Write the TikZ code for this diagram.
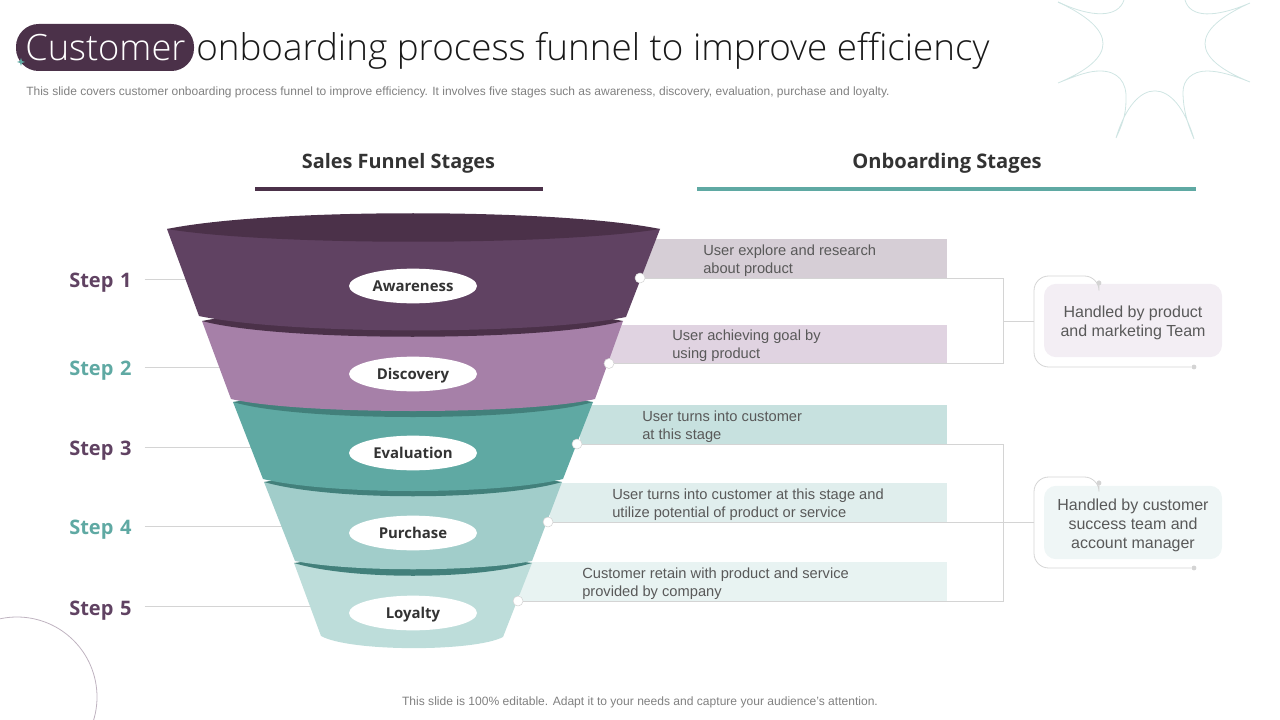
\documentclass[tikz,border=0pt]{standalone}
\usepackage{fontspec}
\usetikzlibrary{shapes.geometric}
\setmainfont{Liberation Sans}
\newfontfamily\headfont{Open Sans}
\newfontfamily\titlefont{Open Sans Light}
\definecolor{plumdark}{HTML}{4B3149}
\definecolor{plum}{HTML}{604262}
\definecolor{mauve}{HTML}{A680A8}
\definecolor{tealdark}{HTML}{42807B}
\definecolor{teal}{HTML}{5FA9A3}
\definecolor{tealmid}{HTML}{A1CDCA}
\definecolor{teallight}{HTML}{BDDDDA}
\definecolor{inkgray}{HTML}{595959}
\definecolor{wiregray}{HTML}{D4D4D4}
\definecolor{boxplum}{HTML}{F3EEF4}
\definecolor{boxteal}{HTML}{EFF6F6}
\begin{document}
\begin{tikzpicture}[x=0.75pt,y=-0.75pt,
    wire/.style ={draw=wiregray, line width=0.6pt},
    stepname/.style ={anchor=west, inner sep=0pt, text width=56.25pt, font=\headfont\bfseries\fontsize{15}{18}\selectfont},
    stagename/.style ={ellipse, fill=white, minimum width=96pt, minimum height=26pt, inner sep=0pt, text height=10.7pt, text depth=2pt, align=center, text=black!80, font=\headfont\bfseries\fontsize{11.2}{13}\selectfont},
    dotmark/.style ={circle, draw=wiregray, fill=white, minimum size=7.5pt, inner sep=0pt},
    smalldot/.style ={circle, fill=wiregray, minimum size=3.6pt, inner sep=0pt},
    blurb/.style ={anchor=west, align=left, inner sep=0pt, text=inkgray, font=\fontsize{11}{13.5}\selectfont},
    handled/.style ={rounded corners=9pt, minimum width=133.5pt, minimum height=55pt, inner sep=0pt, align=center, text=inkgray, font=\fontsize{12}{14.2}\selectfont}]
   \clip (0,0) rectangle (1280,720);

   % decoration
   \draw[draw=teal!30, line width=0.6pt] (1058,2) .. controls (1118,30) and (1118,58) .. (1058,83)
      .. controls (1080,74) and (1090,71) .. (1100,71)
      .. controls (1118,71) and (1127,82) .. (1126,100)
      .. controls (1126,115) and (1122,125) .. (1116,138)
      .. controls (1135,75) and (1175,75) .. (1194,139)
      .. controls (1188,125) and (1183,110) .. (1183,92)
      .. controls (1183,80) and (1192,71) .. (1207,71)
      .. controls (1220,71) and (1235,76) .. (1250,82)
      .. controls (1190,58) and (1190,30) .. (1250,3)
      .. controls (1215,18) and (1190,18) .. (1185,0);
   \draw[draw=teal!30, line width=0.6pt] (1058,2) .. controls (1092,18) and (1118,18) .. (1124,0);
   \draw[draw=plum!40, line width=0.6pt] (17,697) circle (80);

   % title
   \node[draw=none, fill=plumdark, rounded corners=17pt, minimum width=133.5pt, minimum height=35.25pt] (pill) at (105,47.5) {};
   \node[anchor=base west, inner sep=0pt, text=white, font=\titlefont\fontsize{27.2}{30}\selectfont] (titleA) at (25,60.5) {Customer};
   \node[anchor=base west, inner sep=0pt, text=black!90, font=\titlefont\fontsize{27.6}{30}\selectfont] (titleB) at (196,60.5) {onboarding process funnel to improve efficiency};
   \fill[teal] (21,58) -- (22,61) -- (25,62) -- (22,63) -- (21,66) -- (20,63) -- (17,62) -- (20,61) -- cycle;
   \node[anchor=west, inner sep=0pt, text=black!50, font=\fontsize{9}{10}\selectfont] (subtitle) at (26,92) {This slide covers customer onboarding process funnel to improve efficiency. It involves five stages such as awareness, discovery, evaluation, purchase and loyalty.};

   % headers
   \node[text=black!80, font=\headfont\bfseries\fontsize{14.9}{18}\selectfont] (salesHead) at (398.5,163) {Sales Funnel Stages};
   \node[text=black!80, font=\headfont\bfseries\fontsize{15.1}{18}\selectfont] (onboardHead) at (947,163) {Onboarding Stages};
   \fill[plumdark] (255,187) rectangle (543,191);
   \fill[teal] (697,187) rectangle (1196,191);

   % stage bars
   \fill[plum!26] (640,239) rectangle (947,278);
   \fill[mauve!35] (610,325) rectangle (947,364);
   \fill[teal!35] (580,405) rectangle (947,444);
   \fill[tealmid!33] (550,483) rectangle (947,522);
   \fill[teallight!35] (520,562) rectangle (947,601);

   \node[blurb] (blurbA) at (703,261) {User explore and research\\about product};
   \node[blurb] (blurbB) at (672,346) {User achieving goal by\\using product};
   \node[blurb] (blurbC) at (642,427) {User turns into customer\\at this stage};
   \node[blurb] (blurbD) at (612,505) {User turns into customer at this stage and\\utilize potential of product or service};
   \node[blurb] (blurbE) at (582,584) {Customer retain with product and service\\provided by company};

   % right boxes
   \node[handled, fill=boxplum] (boxA) at (1133,320.5) {\rule{0pt}{12.7pt}Handled by product\\and marketing Team};
   \node[handled, fill=boxteal] (boxB) at (1133,522.5) {\rule{0pt}{12.7pt}Handled by customer\\success team and\\account manager};

   \node[smalldot] (capA) at (1099,283) {};
   \node[smalldot] (capB) at (1194,367) {};
   \node[smalldot] (capC) at (1099,483) {};
   \node[smalldot] (capD) at (1194,568) {};
   \coordinate (busA) at (1003,321);
   \coordinate (busB) at (1003,522);
   \coordinate (brkA) at (1034,321);
   \coordinate (brkB) at (1034,522);

   \draw[wire, rounded corners=11pt] (capA) |- (1034,276) -- (1034,367) -- (capB);
   \draw[wire, rounded corners=11pt] (capC) |- (1034,477) -- (1034,568) -- (capD);

   % step labels
   \node[stepname, text=plum] (stepA) at (69,283) {Step 1};
   \node[stepname, text=teal] (stepB) at (69,371) {Step 2};
   \node[stepname, text=plum] (stepC) at (69,451) {Step 3};
   \node[stepname, text=teal] (stepD) at (69,530) {Step 4};
   \node[stepname, text=plum] (stepE) at (69,610.5) {Step 5};

   \coordinate (edgeA) at (200,279);
   \coordinate (edgeB) at (240,367);
   \coordinate (edgeC) at (270,447);
   \coordinate (edgeD) at (300,526);
   \coordinate (edgeE) at (330,606);
   \draw[wire] (stepA.east |- edgeA) -- (edgeA);
   \draw[wire] (stepB.east |- edgeB) -- (edgeB);
   \draw[wire] (stepC.east |- edgeC) -- (edgeC);
   \draw[wire] (stepD.east |- edgeD) -- (edgeD);
   \draw[wire] (stepE.east |- edgeE) -- (edgeE);

   % funnel, lowest layer first
   \fill[teallight] (294,563) -- (321,636) .. controls (350,652) and (474,652) .. (503,637) -- (532,563) -- cycle;
   \fill[tealdark] (294,563) .. controls (350,580) and (476,580) .. (532,563) .. controls (476,555) and (350,555) .. cycle;
   \fill[tealmid] (264,482) -- (295,561) .. controls (350,572) and (476,572) .. (532,561) -- (562,482) -- cycle;
   \fill[tealdark] (264,482) .. controls (330,501) and (496,501) .. (562,482) .. controls (496,470) and (330,470) .. cycle;
   \fill[teal] (233,402) -- (263,479) .. controls (330,495) and (496,495) .. (563,479) -- (593,402) -- cycle;
   \fill[tealdark] (233,402) .. controls (300,422) and (526,422) .. (593,402) .. controls (526,390) and (300,390) .. cycle;
   \fill[mauve] (202,321) -- (231,399) .. controls (300,415) and (526,415) .. (595,399) -- (623,321) -- cycle;
   \fill[plumdark] (202,321) .. controls (280,342) and (545,342) .. (623,321) .. controls (545,305) and (280,305) .. cycle;
   \fill[plum] (167,229) -- (199,316) .. controls (290,335) and (535,335) .. (626,317) -- (660,229) -- cycle;
   \fill[plumdark] (167,229) .. controls (270,208) and (556,208) .. (660,229) .. controls (556,246) and (270,246) .. cycle;

   \node[stagename] (awareness) at (413,286) {Awareness};
   \node[stagename] (discovery) at (413,374) {Discovery};
   \node[stagename] (evaluation) at (413,453) {Evaluation};
   \node[stagename] (purchase) at (413,533) {Purchase};
   \node[stagename] (loyalty) at (413,613) {Loyalty};

   % connectors
   \node[dotmark] (dotA) at (640,278) {};
   \node[dotmark] (dotB) at (609,363.5) {};
   \node[dotmark] (dotC) at (577,444) {};
   \node[dotmark] (dotD) at (548,522) {};
   \node[dotmark] (dotE) at (518,601) {};

   \draw[wire] (dotA) -| (busA);
   \draw[wire] (dotB) -| (busA);
   \draw[wire] (busA) -- (brkA);
   \draw[wire] (dotC) -| (busB);
   \draw[wire] (dotE) -| (busB);
   \draw[wire] (dotD) -- (brkB);

   % footer
   \node[inner sep=0pt, text=black!50, font=\fontsize{9.05}{11}\selectfont] (footer) at (640,702) {This slide is 100\% editable. Adapt it to your needs and capture your audience's attention.};
 \end{tikzpicture}
\end{document}
